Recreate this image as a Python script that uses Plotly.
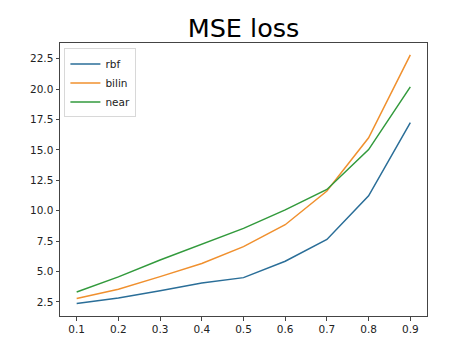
import plotly.graph_objects as go

x_vals = [0.1, 0.2, 0.3, 0.4, 0.5, 0.6, 0.7, 0.8, 0.9]
rbf = [2.37, 2.83, 3.42, 4.05, 4.50, 5.85, 7.64, 11.22, 17.25]
bilin = [2.78, 3.55, 4.58, 5.66, 7.05, 8.85, 11.62, 16.0, 22.82]
near = [3.32, 4.56, 5.95, 7.25, 8.55, 10.07, 11.75, 15.03, 20.18]
series_names = ["rbf", "bilin", "near"]
colors = ["#2a6e98", "#f0902e", "#329a3c"]
y_ticks = [2.5, 5.0, 7.5, 10.0, 12.5, 15.0, 17.5, 20.0, 22.5]
x_ticks = [0.1, 0.2, 0.3, 0.4, 0.5, 0.6, 0.7, 0.8, 0.9]

font = "DejaVu Sans"
fig = go.Figure()
for name, ys, c in zip(series_names, [rbf, bilin, near], colors):
    fig.add_trace(go.Scatter(x=x_vals, y=ys, mode="lines", name=name,
                             line=dict(color=c, width=1.5)))

axis_common = dict(showline=True, linecolor="#444444", linewidth=1, mirror=True,
                   ticks="outside", ticklen=3.5, tickwidth=1, tickcolor="#444444",
                   showgrid=False, zeroline=False,
                   tickfont=dict(family=font, size=10.5, color="#222222"))
# page body has an 8px margin, so the figure is 8px smaller and margins shifted
fig.update_layout(
    width=466, height=347,
    margin=dict(l=52, r=47, t=35, b=39),
    paper_bgcolor="white", plot_bgcolor="white",
    title=dict(text="MSE loss", x=0.5, xanchor="center", xref="paper",
               y=1 - 28.5 / 347, yanchor="bottom",
               font=dict(family=font, size=25.5, color="black")),
    xaxis=dict(range=[0.06, 0.94], tickvals=x_ticks, tickformat=".1f", **axis_common),
    yaxis=dict(range=[1.345, 23.79], tickvals=y_ticks, tickformat=".1f", **axis_common),
    legend=dict(x=0.012, y=0.98, xanchor="left", yanchor="top",
                bgcolor="rgba(255,255,255,0.8)", bordercolor="#d8d8d8", borderwidth=1,
                font=dict(family=font, size=10.5, color="#222222"),
                tracegroupgap=0, itemwidth=30),
    showlegend=True,
)
fig.write_html("out.html")
